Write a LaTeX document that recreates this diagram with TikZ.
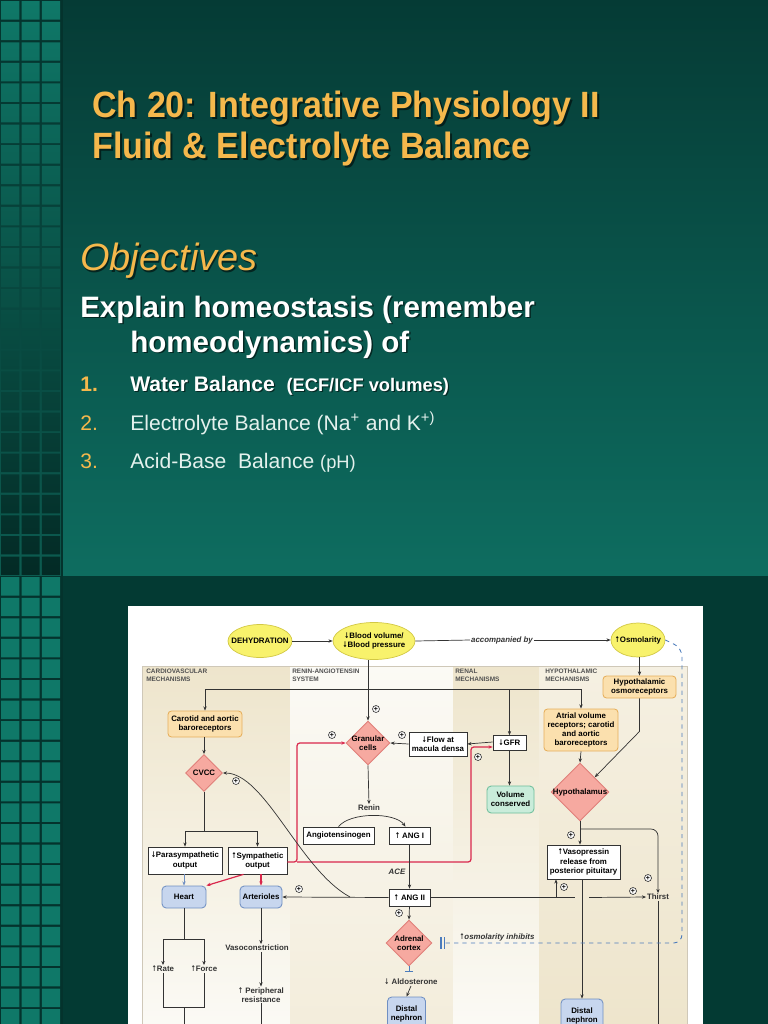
\documentclass[tikz,border=0pt]{standalone}
\usepackage{fontspec}
\setmainfont{Liberation Sans}
\newfontfamily\arrfont{DejaVu Sans}
\usetikzlibrary{positioning, calc, shapes.geometric, arrows.meta}

\definecolor{slidetop}{HTML}{053B35}
\definecolor{slidebot}{HTML}{0E6D60}
\definecolor{slidedeep}{HTML}{033A33}
\definecolor{gridline}{HTML}{04332D}
\definecolor{gridlinelow}{HTML}{0C5B50}
\definecolor{sqlight}{HTML}{0F7868}
\definecolor{sqdark}{HTML}{032A25}
\definecolor{titleorange}{HTML}{F5B84C}
\definecolor{itemtext}{HTML}{E4F1ED}
\definecolor{panelgray}{HTML}{CFC8B8}
\definecolor{colbeige}{HTML}{EEE5CC}
\definecolor{colwhite}{HTML}{FBFAF5}
\definecolor{colhypo}{HTML}{F5F0E2}
\definecolor{boxorange}{HTML}{E6AF5C}
\definecolor{fillorange}{HTML}{FBE0AE}
\definecolor{diared}{HTML}{E0807A}
\definecolor{filldia}{HTML}{F6A9A0}
\definecolor{ellline}{HTML}{D2C844}
\definecolor{fillyellow}{HTML}{F8F26C}
\definecolor{boxblue}{HTML}{6F8FC2}
\definecolor{fillblue}{HTML}{C7D6EE}
\definecolor{boxgreen}{HTML}{6CBE9A}
\definecolor{fillgreen}{HTML}{C9ECDA}
\definecolor{sigred}{HTML}{D9274C}
\definecolor{inhblue}{HTML}{4C7CBC}
\definecolor{linegray}{HTML}{333333}

\newcommand{\pxu}{0.025cm}
\newcommand{\dfont}{\fontsize{5.6}{6.5}\selectfont\bfseries}
\newcommand{\hfont}{\fontsize{4.6}{5.4}\selectfont\bfseries}
\newcommand{\zw}[1]{\makebox[0pt]{#1}}
\newcommand{\uparr}{{\arrfont\bfseries\scalebox{0.75}[1]{↑}}}
\newcommand{\dnarr}{{\arrfont\bfseries\scalebox{0.75}[1]{↓}}}

\tikzset{
    yellownode/.style={
        ellipse,
        draw=ellline, % 黄色椭圆
        fill=fillyellow,
        line width=0.5pt,
        inner sep=0,
        align=center,
        font=\dfont
    },
    orangebox/.style={
        rectangle,
        rounded corners=2.5pt,
        draw=boxorange,
        fill=fillorange,
        line width=0.6pt,
        inner sep=0,
        align=center,
        font=\dfont
    },
    rednode/.style={
        diamond,
        draw=diared, % 菱形
        fill=filldia,
        line width=0.6pt,
        inner sep=0,
        align=center,
        font=\dfont
    },
    bluebox/.style={
        rectangle,
        rounded corners=3pt,
        draw=boxblue,
        fill=fillblue,
        line width=0.6pt,
        inner sep=0,
        align=center,
        font=\dfont
    },
    greenbox/.style={
        rectangle,
        rounded corners=3pt,
        draw=boxgreen,
        fill=fillgreen,
        line width=0.6pt,
        inner sep=0,
        align=center,
        font=\dfont
    },
    whitebox/.style={
        rectangle,
        draw=linegray,
        fill=white,
        line width=0.5pt,
        inner sep=0,
        align=center,
        font=\dfont
    },
    ptext/.style={inner sep=0.5pt, align=center, font=\dfont, text=linegray},
    headtext/.style={anchor=north west, inner sep=0, align=left, font=\hfont, text=linegray!85},
    plusnode/.style={
        circle,
        draw=linegray,
        fill=white,
        line width=0.45pt,
        inner sep=0,
        minimum size=7*\pxu,
        font=\fontsize{5}{5}\selectfont\bfseries
    },
    wh/.style 2 args={minimum width=#1*\pxu, minimum height=#2*\pxu},
    dsize/.style={minimum size=#1*\pxu},
    conn/.style={draw=linegray, line width=0.5pt},
    redlink/.style={draw=sigred, line width=0.85pt},
    bluelink/.style={draw=boxblue, line width=0.7pt},
    inhib/.style={draw=inhblue, line width=0.6pt},
    slidetext/.style={anchor=base west, inner sep=0},
    shadowed/.style={text=black, opacity=0.55}
}

\begin{document}
\begin{tikzpicture}[x=0.025cm, y=-0.025cm, >={Stealth[length=3pt,width=2.4pt]}]
\useasboundingbox (0,0) rectangle (768,1024);

% 幻灯片背景
\shade[top color=slidetop, bottom color=slidebot] (61,0) rectangle (768,576);
\fill[slidedeep] (61,576) rectangle (768,1024);
% 左侧方格
\shade[top color=gridline, bottom color=gridlinelow] (0,0) rectangle (61,576);
\shade[top color=sqlight, bottom color=sqdark]
    foreach \r in {0,...,27} {foreach \c in {0,1,2} {(\c*20.33+1.2,\r*20.57+1.2) rectangle ++(18.2,18.4)}};
\fill[gridline] (0,576) rectangle (61,1024);
\fill[sqlight]
    foreach \r in {0,...,21} {foreach \c in {0,1,2} {(\c*20.33+1.2,576+\r*20.57+1.2) rectangle ++(18.2,18.4)}};
\fill[gridline] (60.5,0) rectangle (63,1024);

% 标题
\node[slidetext, shadowed, font=\fontsize{26}{30}\selectfont\bfseries] at (94,120) {\scalebox{0.93}[1]{Ch 20: Integrative Physiology II}};
\node[slidetext, text=titleorange, font=\fontsize{26}{30}\selectfont\bfseries] (title1) at (92,118) {\scalebox{0.93}[1]{Ch 20: Integrative Physiology II}};
\node[slidetext, shadowed, font=\fontsize{26}{30}\selectfont\bfseries] at (94,161) {\scalebox{0.93}[1]{Fluid \& Electrolyte Balance}};
\node[slidetext, text=titleorange, font=\fontsize{26}{30}\selectfont\bfseries] (title2) at (92,159) {\scalebox{0.93}[1]{Fluid \& Electrolyte Balance}};

\node[slidetext, shadowed, font=\fontsize{27}{30}\selectfont\itshape] at (81.5,272.5) {Objectives};
\node[slidetext, text=titleorange, font=\fontsize{27}{30}\selectfont\itshape] (obj) at (80,271) {Objectives};

\node[slidetext, shadowed, font=\fontsize{21}{25}\selectfont\bfseries] at (81.5,318.5) {Explain homeostasis (remember};
\node[slidetext, text=white, font=\fontsize{21}{25}\selectfont\bfseries] (expl1) at (80,317) {Explain homeostasis (remember};
\node[slidetext, shadowed, font=\fontsize{21}{25}\selectfont\bfseries] at (131.5,353.5) {homeodynamics) of};
\node[slidetext, text=white, font=\fontsize{21}{25}\selectfont\bfseries] (expl2) at (130,352) {homeodynamics) of};

\node[slidetext, text=titleorange, font=\fontsize{15}{18}\selectfont\bfseries] (n1) at (80,391) {1.};
\node[slidetext, shadowed, font=\fontsize{15}{18}\selectfont\bfseries] at (131.2,392.2) {Water Balance\ \ {\fontsize{13}{15}\selectfont(ECF/ICF volumes)}};
\node[slidetext, text=white, font=\fontsize{15}{18}\selectfont\bfseries] (it1) at (130,391) {Water Balance\ \ {\fontsize{13}{15}\selectfont(ECF/ICF volumes)}};
\node[slidetext, text=titleorange, font=\fontsize{15}{18}\selectfont] (n2) at (80,430) {2.};
\node[slidetext, text=itemtext, font=\fontsize{15}{18}\selectfont] (it2) at (130,430) {Electrolyte Balance (Na\textsuperscript{+} and K\textsuperscript{+)}};
\node[slidetext, text=titleorange, font=\fontsize{15}{18}\selectfont] (n3) at (80,468) {3.};
\node[slidetext, text=itemtext, font=\fontsize{15}{18}\selectfont] (it3) at (130,468) {Acid-Base\ \ Balance {\fontsize{13}{15}\selectfont(pH)}};

% 生理图
\begin{scope}
\clip (128,606) rectangle (703,1024);
\fill[white] (128,606) rectangle (703,1024);
\shade[top color=colbeige, bottom color=colwhite] (142,666) rectangle (290,1024);
\shade[top color=colwhite, bottom color=colbeige!70] (290,666) rectangle (453,1024);
\shade[top color=colbeige, bottom color=colwhite] (453,666) rectangle (539,1024);
\shade[top color=colhypo, bottom color=colbeige] (539,666) rectangle (687,1024);
\draw[panelgray, line width=0.6pt] (142,1030) |- (687,666) -- (687,1030);

\node[headtext] (hcard) at (146,669) {CARDIOVASCULAR\\MECHANISMS};
\node[headtext] (hras) at (292,669) {RENIN-ANGIOTENSIN\\SYSTEM};
\node[headtext] (hren) at (455,669) {RENAL\\MECHANISMS};
\node[headtext] (hhyp) at (545,669) {HYPOTHALAMIC\\MECHANISMS};

% 节点
\node[yellownode, wh={64}{33}] (dehyd) at (260,641) {\zw{DEHYDRATION}};
\node[yellownode, wh={82}{37}] (bvol) at (374,641) {\zw{\dnarr Blood volume/}\\\zw{\dnarr Blood pressure}};
\node[yellownode, wh={54}{34}] (osmo) at (638,640) {\zw{\uparr Osmolarity}};
\node[ptext, font=\dfont\itshape] (accomp) at (502,640) {accompanied by};

\node[orangebox, wh={74}{26}] (carotid) at (205,724) {Carotid and aortic\\baroreceptors};
\node[rednode, dsize=37] (cvcc) at (204,773) {\zw{CVCC}};
\node[whitebox, wh={74}{27}] (para) at (185,860.5) {\dnarr Parasympathetic\\output};
\node[whitebox, wh={59}{27}] (symp) at (257.5,860.5) {\uparr Sympathetic\\output};
\node[bluebox, wh={44}{22}] (heart) at (184,897) {Heart};
\node[bluebox, wh={42}{22}] (arter) at (261,897) {Arterioles};
\node[ptext] (rate) at (163,969) {\uparr Rate};
\node[ptext] (force) at (204,969) {\uparr Force};
\node[ptext] (vasoc) at (257,948) {Vasoconstriction};
\node[ptext] (perres) at (261,995) {\uparr\ Peripheral\\resistance};

\node[rednode, dsize=44] (gran) at (368,743) {\zw{Granular}\\\zw{cells}};
\node[whitebox, wh={58}{24}] (flow) at (438,744) {\dnarr Flow at\\macula densa};
\node[whitebox, wh={33}{15}] (gfr) at (509.5,743) {\dnarr GFR};
\node[greenbox, wh={47}{27}] (volcons) at (510.5,799.5) {Volume\\conserved};
\node[ptext] (renin) at (369,808) {Renin};
\node[whitebox, wh={71}{17}] (angiog) at (338.5,835.5) {Angiotensinogen};
\node[whitebox, wh={41}{17}] (ang1) at (409.5,835.5) {\uparr\ ANG I};
\node[ptext, font=\dfont\itshape] (ace) at (397,872) {ACE};
\node[whitebox, wh={41}{17}] (ang2) at (409.5,897.5) {\uparr\ ANG II};
\node[rednode, dsize=46] (adrenal) at (409,943) {\zw{Adrenal}\\\zw{cortex}};
\node[ptext] (aldo) at (411,982) {\dnarr\ Aldosterone};
\node[bluebox, wh={38}{34}] (distal1) at (406.5,1014) {Distal\\nephron};

\node[orangebox, wh={73}{22}] (osmorec) at (639.5,687) {Hypothalamic\\osmoreceptors};
\node[orangebox, wh={74}{42}] (atrial) at (581,730) {Atrial volume\\receptors; carotid\\and aortic\\baroreceptors};
\node[rednode, dsize=58] (hypo) at (580,792) {\zw{Hypothalamus}};
\node[whitebox, wh={73}{34}] (vaso) at (583.5,862) {\uparr Vasopressin\\release from\\posterior pituitary};
\node[ptext] (thirst) at (658,897) {Thirst};
\node[bluebox, wh={42}{34}] (distal2) at (582,1016) {Distal\\nephron};
\node[ptext, font=\dfont\itshape, anchor=south] (inhtxt) at (497,942) {\uparr osmolarity inhibits};

% 加号
\node[plusnode] (p1) at (376,709) {+};
\node[plusnode] (p2) at (332,735) {+};
\node[plusnode] (p3) at (402,735) {+};
\node[plusnode] (p4) at (478,757) {+};
\node[plusnode] (p5) at (236,781) {+};
\node[plusnode] (p6) at (299,889) {+};
\node[plusnode] (p7) at (399,913) {+};
\node[plusnode] (p8) at (564,887) {+};
\node[plusnode] (p9) at (633,891) {+};
\node[plusnode] (p10) at (571,835) {+};
\node[plusnode] (p11) at (648,878) {+};

% 连线
\coordinate (bus) at (0,689);
\coordinate (cvb) at (0,831);
\coordinate (hb1) at (0,939);
\coordinate (hb2) at (0,1007);
\coordinate (bot) at (0,1030);
\coordinate (rj) at (297,862);
\coordinate (cj) at (350,897);
\coordinate (vb) at (556,897);
\coordinate (hyb) at (581,829);

\draw[conn,->] (dehyd.east) -- (bvol.west);
\draw[conn] (bvol.east) -- (accomp.west);
\draw[conn,->] (accomp.east) -- (osmo.west);
\draw[conn,->] (gran.north |- bvol.south) -- (gran.north);
\draw[conn] (carotid.north |- bus) -- (atrial.north |- bus);
\draw[conn,->] (carotid.north |- bus) -- (carotid.north);
\draw[conn,->] (gfr.north |- bus) -- (gfr.north);
\draw[conn,->] (atrial.north |- bus) -- (atrial.north);

\draw[conn,->] (cvcc.north |- carotid.south) -- (cvcc.north);
\draw[conn] (cvcc.south) -- (cvcc.south |- cvb);
\draw[conn] (para.north |- cvb) -- (symp.north |- cvb);
\draw[conn,->] (para.north |- cvb) -- (para.north);
\draw[conn,->] (symp.north |- cvb) -- (symp.north);
\draw[bluelink,->] (heart.north |- para.south) -- (heart.north);
\draw[redlink,->] ($(symp.south)+(-14,0)$) -- (heart.north east);
\draw[redlink,->] (arter.north |- symp.south) -- (arter.north);
\draw[redlink,->,rounded corners=2pt] (symp.east |- rj) -- (rj) |- (gran.west);
\draw[redlink,->,rounded corners=2pt] (rj) -- (471,862) |- ($(gfr.west)+(0,4)$);

\draw[conn,->] ($(gfr.west)+(0,-1)$) -- (flow.east);
\draw[conn,->] (flow.west) -- (gran.east);
\draw[conn,->] (gfr.south) -- (gfr.south |- volcons.north);
\draw[conn,->] (gran.south) -- (renin.north);
\draw[conn,->] (angiog.north) .. controls (350,812) and (395,812) .. ($(ang1.north)+(-4,0)$);
\draw[conn,->] (ang1.south) -- (ang2.north);
\draw[conn,->] (ang2.west) -- (arter.east);
\draw[conn,->] (cj) .. controls (300,870) and (265,773) .. (cvcc.east);
\draw[conn] (ang2.east) -- ($(distal2.north |- ang2.east)+(-7,0)$);
\draw[conn,->] ($(distal2.north |- ang2.east)+(7,0)$) -- (thirst.west);
\draw[conn,->] (vb) -- (vb |- vaso.south);
\draw[conn,->] (ang2.south) -- (adrenal.north);
\draw[inhib,-{Bar[width=6pt]}] (adrenal.south) -- ++(0,5);
\draw[conn,->] (aldo.south) -- (distal1.north);

\draw[conn,->] (osmorec.north |- osmo.south) -- (osmorec.north);
\draw[conn,->] (osmorec.south) -- ++(0,33) -- (hypo.north east);
\draw[conn,->] (atrial.south) -- (hypo.north);
\draw[conn,->] (hypo.south) -- (hypo.south |- vaso.north);
\draw[conn,->,rounded corners=5pt] (hyb) -- (thirst.north |- hyb) -- (thirst.north);
\draw[conn] (thirst.south) -- (thirst.south |- bot);
\draw[conn,->] (distal2.north |- vaso.south) -- (distal2.north);
\draw[inhib, dashed, -{Bar[width=8pt,line width=0.9pt,sep=1.6pt]Bar[width=8pt,line width=0.9pt]}, rounded corners=6pt]
    (osmo.east) -- (682,648) -- (682,943) -- ($(adrenal.east)+(8,0)$);

\draw[conn] (heart.south) -- (heart.south |- hb1);
\draw[conn] (rate.north |- hb1) -- (force.north |- hb1);
\draw[conn,->] (rate.north |- hb1) -- (rate.north);
\draw[conn,->] (force.north |- hb1) -- (force.north);
\draw[conn] (rate.south) -- (rate.south |- hb2) -- (force.south |- hb2) -- (force.south);
\draw[conn] (heart.south |- hb2) -- (heart.south |- bot);
\draw[conn,->] (arter.south) -- (arter.south |- vasoc.north);
\draw[conn,->] (arter.south |- vasoc.south) -- (arter.south |- perres.north);
\draw[conn] (arter.south |- perres.south) -- (arter.south |- bot);
\end{scope}
\end{tikzpicture}
\end{document}
